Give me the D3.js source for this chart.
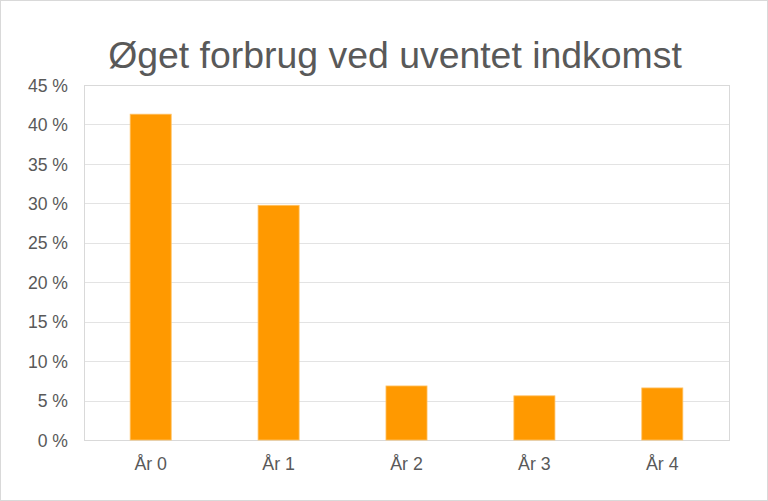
<!DOCTYPE html>
<html>
<head>
<meta charset="utf-8">
<script src="https://cdn.jsdelivr.net/npm/d3@7"></script>
<style>
  body { margin: 0; background: #fff; }
  text { font-family: "Liberation Sans", Arial, sans-serif; fill: #595959; }
</style>
</head>
<body>
<script>
// data
var categories = ["År 0", "År 1", "År 2", "År 3", "År 4"];
var values = [41.3, 29.75, 6.85, 5.6, 6.6];
var yTicks = [0, 5, 10, 15, 20, 25, 30, 35, 40, 45];
var title = "Øget forbrug ved uventet indkomst";

var width = 768;
var height = 501;
var margin = {top: 85, right: 39, bottom: 61, left: 84};

var svg = d3.select("body").append("svg")
  .attr("width", width)
  .attr("height", height);

// outer frame
svg.append("rect")
  .attr("x", 0.5).attr("y", 0.5)
  .attr("width", width - 1).attr("height", height - 1)
  .attr("fill", "#fff")
  .attr("stroke", "#d9d9d9");

var x = d3.scaleBand()
  .domain(categories)
  .range([margin.left, width - margin.right])
  .paddingInner(0.679)
  .paddingOuter(0.361);

var y = d3.scaleLinear()
  .domain([0, 45])
  .range([height - margin.bottom, margin.top]);

// gridlines
svg.append("g")
  .selectAll("line")
  .data(yTicks)
  .enter().append("line")
  .attr("x1", margin.left)
  .attr("x2", width - margin.right)
  .attr("y1", function(d){ return Math.round(y(d)) + 0.5; })
  .attr("y2", function(d){ return Math.round(y(d)) + 0.5; })
  .attr("stroke", "#e3e3e3")
  .attr("stroke-width", 1.2);

// plot border
svg.append("rect")
  .attr("x", margin.left + 0.5)
  .attr("y", margin.top + 0.5)
  .attr("width", width - margin.right - margin.left)
  .attr("height", height - margin.bottom - margin.top)
  .attr("fill", "none")
  .attr("stroke", "#d9d9d9");

// bars
svg.append("g")
  .selectAll("rect")
  .data(values)
  .enter().append("rect")
  .attr("x", function(d, i){ return x(categories[i]); })
  .attr("y", function(d){ return y(d); })
  .attr("width", x.bandwidth())
  .attr("height", function(d){ return y(0) - y(d); })
  .attr("fill", "#ff9900")
  .attr("stroke", "#ffc266")
  .attr("stroke-width", 0.8);

// y axis
var yAxis = svg.append("g")
  .attr("transform", "translate(" + (margin.left - 16) + ",0)")
  .call(d3.axisLeft(y).tickValues(yTicks).tickSize(0).tickPadding(0)
    .tickFormat(function(d){ return d + " %"; }));
yAxis.select(".domain").remove();
yAxis.selectAll("text")
  .attr("font-size", 17.6)
  .attr("dy", "0.35em");

// x axis
var xAxis = svg.append("g")
  .attr("transform", "translate(0," + (height - margin.bottom) + ")")
  .call(d3.axisBottom(x).tickSize(0).tickPadding(17));
xAxis.select(".domain").remove();
xAxis.selectAll("text")
  .attr("font-size", 17.8);

svg.selectAll(".tick text").attr("fill", "#595959").attr("font-family", null);

// title
svg.append("text")
  .attr("x", 395)
  .attr("y", 68)
  .attr("text-anchor", "middle")
  .attr("font-size", 37.4)
  .text(title);
</script>
</body>
</html>
